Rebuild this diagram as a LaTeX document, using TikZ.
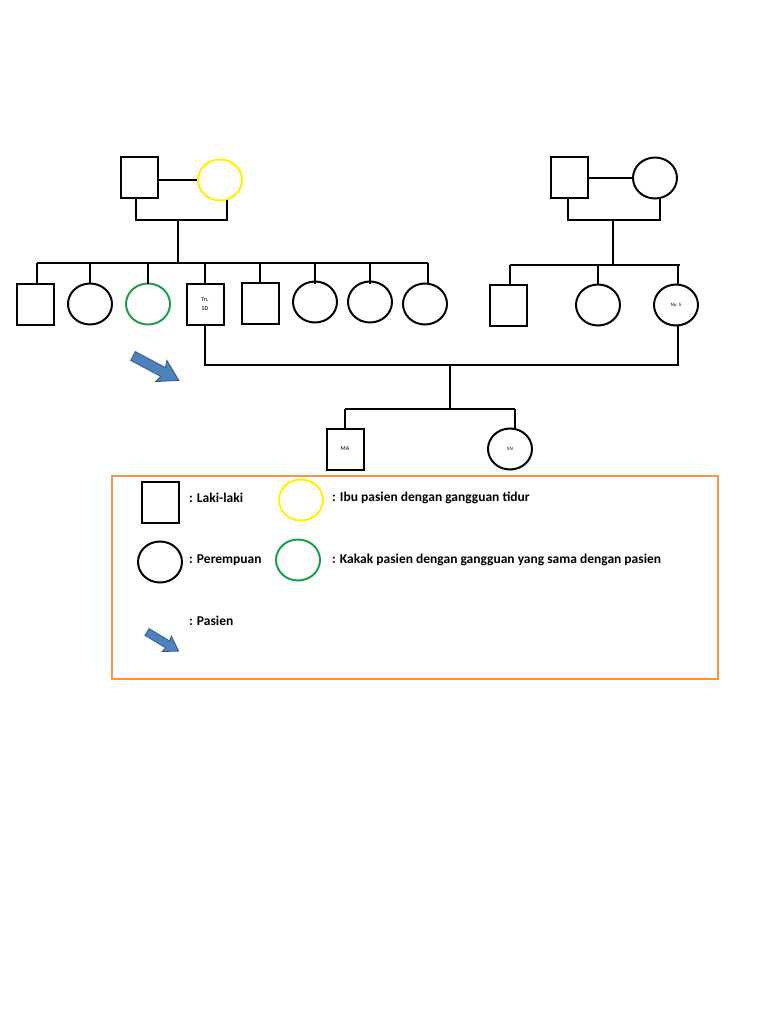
\documentclass[tikz,border=0pt]{standalone}
\usepackage{fontspec}
\setmainfont{Carlito}
\usetikzlibrary{shapes.geometric}
\definecolor{arrowblue}{HTML}{4F81BD}
\definecolor{arrowedge}{HTML}{385D8A}
\definecolor{legor}{HTML}{F79646}
\definecolor{ylw}{HTML}{FFF200}
\definecolor{grn}{HTML}{1EA04A}
\begin{document}
\begin{tikzpicture}[x=1pt,y=-1pt,
  line/.style={line width=2.6pt},
  male/.style={draw,line width=2pt,minimum width=37pt,minimum height=41pt,inner sep=0pt,font=\fontsize{6}{7}\selectfont,align=center},
  female/.style={draw,line width=2pt,ellipse,minimum width=44pt,minimum height=41pt,inner sep=0pt,font=\fontsize{5}{6}\selectfont},
  pat/.style={draw=arrowedge,fill=arrowblue,line width=0.8pt,line join=miter},
  leg/.style={anchor=west,font=\fontsize{13.5}{15}\bfseries\selectfont,inner sep=0pt}
]
\useasboundingbox (0,0) rectangle (768,1024);
% generation 1 left
\node[male] (g1m) at (139,178) {};
\node[female,draw=ylw] (g1f) at (220,180) {};
\draw[line] (157,180) -- (g1f.west);
\coordinate (l1) at (136,220); \coordinate (l2) at (227,220);
\draw[line] (136,199) -- (l1) -- (l2) -- (227,200);
\coordinate (ld) at (178,220); \coordinate (lb) at (178,263);
\draw[line] (ld) -- (lb);
\draw[line] (37,263) -- (428,263);
% gen 2 left
\node[male] (s1) at (35,304) {};
\node[female] (s2) at (90,304) {};
\node[female,draw=grn] (s3) at (148,304) {};
\node[male] (sd) at (205,304) {Tn.\\[2pt] SD};
\node[male] (s5) at (260,303) {};
\node[female] (s6) at (315,302) {};
\node[female] (s7) at (370,302) {};
\node[female] (s8) at (425,304) {};
\foreach \x in {37,90,148,205,260,315,370,428}
  \draw[line] (\x,263) -- (\x,284);
% generation 1 right
\node[male] (g2m) at (569,178) {};
\node[female] (g2f) at (655,178) {};
\draw[line] (g2m.east) -- (g2f.west);
\draw[line] (568,198) -- (568,220) -- (660,220) -- (660,199);
\draw[line] (613,220) -- (613,265);
\draw[line] (510,265) -- (680,265);
\node[male] (r1) at (508,305) {};
\node[female] (r2) at (598,305) {};
\node[female] (ny) at (676,305) {Ny. S};
\foreach \x in {510,598,678} \draw[line] (\x,265) -- (\x,285);
% marriage
\coordinate (m1) at (205,365); \coordinate (m2) at (678,365);
\draw[line] (sd.south) -- (m1) -- (m2) -- (678,326);
\draw[line] (450,365) -- (450,409);
\draw[line] (345,409) -- (515,409);
\node[male] (ma) at (345,449) {MA};
\node[female] (sn) at (510,449) {SN};
\draw[line] (345,409) -- (ma.north);
\draw[line] (515,409) -- (515,429);
% patient arrow
\begin{scope}[shift={(133,356)},rotate=-28]
  \draw[pat] (0,-5) -- (34,-5) -- (32,-12) -- (52,0) -- (32,12) -- (34,5) -- (0,5) -- cycle;
\end{scope}
% legend
\draw[legor,line width=2pt] (112,476) rectangle (718,679);
\node[male] (lm) at (160,502) {};
\node[leg] (t1) at (189,498) {: Laki-laki};
\node[female,draw=ylw] (ly) at (301,500) {};
\node[leg] (t2) at (332,498) {: Ibu pasien dengan gangguan tidur};
\node[female] (lf) at (160,562) {};
\node[leg] (t3) at (189,560) {: Perempuan};
\node[female,draw=grn] (lg) at (298,560) {};
\node[leg] (t4) at (332,560) {: Kakak pasien dengan gangguan yang sama dengan pasien};
\begin{scope}[shift={(147,632)},rotate=-31]
  \draw[pat] (0,-4) -- (24,-4) -- (23,-9) -- (37,0) -- (23,9) -- (24,4) -- (0,4) -- cycle;
\end{scope}
\node[leg] (t5) at (189,621) {: Pasien};
\end{tikzpicture}
\end{document}
